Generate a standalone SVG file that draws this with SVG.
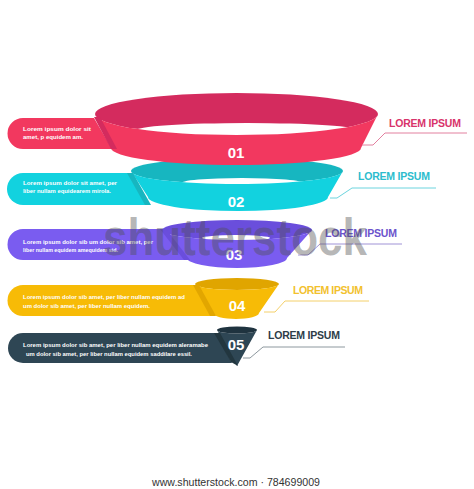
<svg xmlns="http://www.w3.org/2000/svg" width="474" height="489" viewBox="0 0 474 489">
<style>
.pt{font-family:"Liberation Sans",Arial,sans-serif;font-size:5.6px;font-weight:bold;fill:#fff}
.num{font-family:"Liberation Sans",Arial,sans-serif;font-size:15px;font-weight:bold;fill:#fff;text-anchor:middle}
.lab{font-family:"Liberation Sans",Arial,sans-serif;font-size:10.5px;font-weight:bold}
.ln{fill:none;stroke-width:1}
</style>
<rect width="474" height="489" fill="#fff"/>

<g id="step5">
<path d="M23,333 H216 L232,363 H23 A15,15 0 0 1 23,333 Z" fill="#2e4654"/>
<path d="M217,330 L237,366 L257,330 A20,3.5 0 0 1 217,330 Z" fill="#2e4654"/>
<ellipse cx="237" cy="330" rx="20" ry="3.5" fill="#1f333f"/>
<path d="M214,333 L220,333 L238,366 L231,362 Z" fill="#22363f"/>
<text class="num" x="236" y="349.5">05</text>
<text class="pt" x="23" y="346.5" textLength="185" lengthAdjust="spacingAndGlyphs">Lorem ipsum dolor sib amet, per liber nullam equidem aleramabe</text>
<text class="pt" x="26" y="355.5" textLength="166" lengthAdjust="spacingAndGlyphs">um dolor sib amet, per liber nullam equidem saddilare essil.</text>
</g>

<g id="step4">
<path d="M23,285 H197 L214,316 H23 A15.5,15.5 0 0 1 23,285 Z" fill="#f7bb06"/>
<ellipse cx="237" cy="284" rx="42" ry="6" fill="#e0a500"/>
<path d="M195,284 L213,313 A23,6 0 0 0 259,313 L279,284 A42,6 0 0 1 195,284 Z" fill="#f7bb06"/>
<path d="M193,285 L199,285 L216,316 L210,316 Z" fill="#e2a600"/>
<text class="num" x="237" y="310.5">04</text>
<text class="pt" x="23" y="298.5" textLength="162" lengthAdjust="spacingAndGlyphs">Lorem ipsum dolor sib amet, per liber nullam equidem ad</text>
<text class="pt" x="23" y="307.5" textLength="127" lengthAdjust="spacingAndGlyphs">um dolor sib amet, per liber nullam equidem.</text>
</g>

<g id="step3">
<path d="M23,229 H163 L187,260 H23 A15.5,15.5 0 0 1 23,229 Z" fill="#7a5cf0"/>
<ellipse cx="237" cy="230" rx="75" ry="10" fill="#6a4edc"/>
<ellipse cx="236" cy="238" rx="34" ry="3" fill="#fff"/>
<path d="M162,230 L187,258 A50,10 0 0 0 287,258 L312,230 A75,10 0 0 1 162,230 Z" fill="#7a5cf0"/>
<path d="M160,229 L166,229 L190,260 L184,260 Z" fill="#6a4edc"/>
<text class="num" x="234" y="260">03</text>
<text class="pt" x="23" y="243.5" textLength="130" lengthAdjust="spacingAndGlyphs">Lorem ipsum dolor sib um dolor sib amet, per</text>
<text class="pt" x="23" y="252" textLength="95" lengthAdjust="spacingAndGlyphs">liber nullam equidem amequidem sid.</text>
</g>

<g id="step2">
<path d="M23,173 H129 L149,205 H23 A16,16 0 0 1 23,173 Z" fill="#12d2df"/>
<ellipse cx="237" cy="171" rx="106" ry="13" fill="#17b6c0"/>
<ellipse cx="242" cy="183.5" rx="62" ry="5.5" fill="#fff"/>
<path d="M131,171 L148,197 A90,14 0 0 0 328,197 L343,171 A106,13 0 0 1 131,171 Z" fill="#12d2df"/>
<path d="M127,173 L133,173 L151,205 L145,205 Z" fill="#17b6c0"/>
<text class="num" x="236" y="207">02</text>
<text class="pt" x="23" y="184.5" textLength="94" lengthAdjust="spacingAndGlyphs">Lorem ipsum dolor sit amet, per</text>
<text class="pt" x="23" y="192.5" textLength="88" lengthAdjust="spacingAndGlyphs">liber nullam equidearem mirola.</text>
</g>

<g id="step1">
<path d="M23,118 H94 L112,149 H23 A15.5,15.5 0 0 1 23,118 Z" fill="#f2385f"/>
<ellipse cx="236.5" cy="114" rx="141.5" ry="21" fill="#d42b5e"/>
<ellipse cx="247" cy="130.5" rx="112" ry="7.5" fill="#fff"/>
<path d="M95,114 L111,148 A125,17 0 0 0 361,148 L378,114 A141.5,21 0 0 1 95,114 Z" fill="#f2385f"/>
<path d="M94,117 L100,117 L117,149 L111,149 Z" fill="#d42b5e"/>
<text class="num" x="236" y="157.5">01</text>
<text class="pt" x="23" y="130.5" textLength="68" lengthAdjust="spacingAndGlyphs">Lorem ipsum dolor sit</text>
<text class="pt" x="23" y="139" textLength="60" lengthAdjust="spacingAndGlyphs">amet, p equidem am.</text>
</g>

<g id="connectors">
<polyline class="ln" points="362,145 373,145 385,133 467,133" stroke="#e2809f"/>
<polyline class="ln" points="330,198 337,198 352,188 436,188" stroke="#6cd4de"/>
<polyline class="ln" points="298,255 308,255 320,244 402,244" stroke="#a093d6"/>
<polyline class="ln" points="264,312 275,312 285,301 369,301" stroke="#f4d06a"/>
<polyline class="ln" points="243,358 250,358 263,347 345,347" stroke="#8d989e"/>
</g>

<g id="labels">
<text class="lab" x="389" y="127" textLength="72" fill="#d8346b">LOREM IPSUM</text>
<text class="lab" x="358" y="180" textLength="72" fill="#2cbccd">LOREM IPSUM</text>
<text class="lab" x="325" y="237" textLength="72" fill="#6b53cc">LOREM IPSUM</text>
<text class="lab" x="293" y="294" textLength="70" fill="#f2c12e">LOREM IPSUM</text>
<text class="lab" x="268" y="339" textLength="72" fill="#2d3d48">LOREM IPSUM</text>
</g>

<text x="103" y="255" font-family="'Liberation Sans',Arial,sans-serif" font-size="52" font-weight="bold" textLength="264" lengthAdjust="spacingAndGlyphs" fill="#505050" fill-opacity="0.42">shutterstock</text>
<text x="236" y="486" text-anchor="middle" font-family="'Liberation Sans',Arial,sans-serif" font-size="11.5" textLength="168" lengthAdjust="spacingAndGlyphs" fill="#333">www.shutterstock.com · 784699009</text>
</svg>
